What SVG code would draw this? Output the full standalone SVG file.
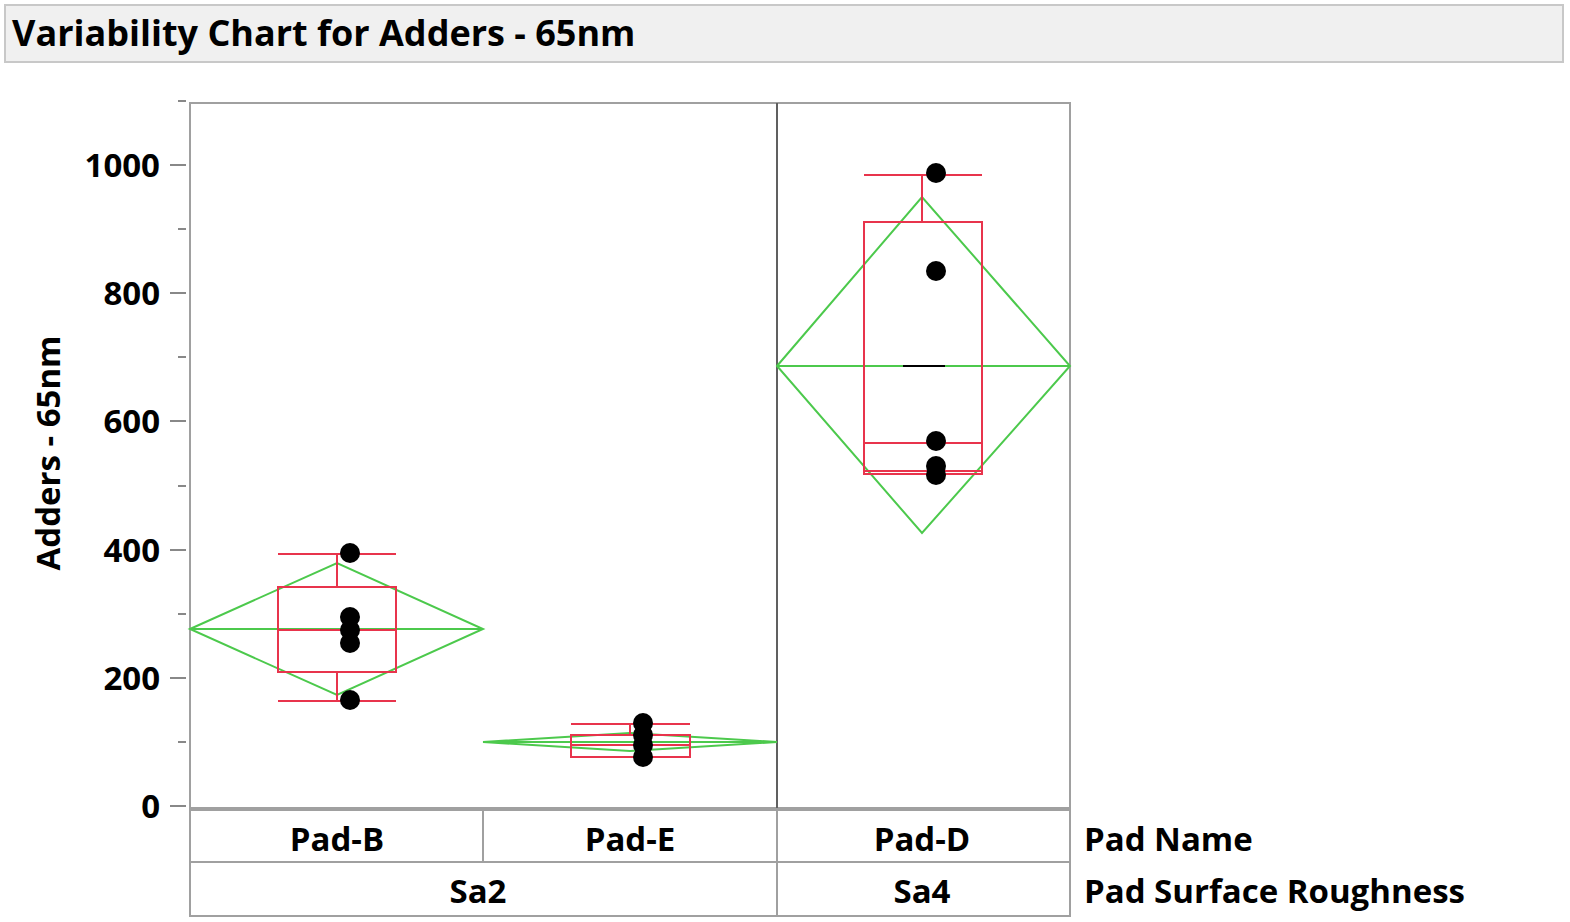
<svg xmlns="http://www.w3.org/2000/svg" width="1570" height="922" viewBox="0 0 1570 922">
<style>
text{font-family:"Open Sans","Noto Sans","Liberation Sans",sans-serif;font-weight:bold;fill:#000}
.t{font-size:36px}
.ax{font-size:33px;text-anchor:end}
.lab{font-size:33px;text-anchor:middle}
.box{fill:none;stroke:#e8344c;stroke-width:2}
.dia{fill:none;stroke:#4cc94c;stroke-width:2}
.tk{stroke:#888;stroke-width:2}
.pt{fill:#000}
.grid{fill:none;stroke:#a0a0a0;stroke-width:2}
</style>
<rect x="5" y="5" width="1558" height="57" fill="#f0f0f0" stroke="#c8c8c8" stroke-width="2"/>
<text class="t" x="12" y="46">Variability Chart for Adders - 65nm</text>
<g id="axis">
<g class="tk">
<line x1="170" y1="806" x2="186" y2="806"/><line x1="170" y1="678" x2="186" y2="678"/><line x1="170" y1="550" x2="186" y2="550"/><line x1="170" y1="421" x2="186" y2="421"/><line x1="170" y1="293" x2="186" y2="293"/><line x1="170" y1="165" x2="186" y2="165"/>
<line x1="178" y1="742" x2="186" y2="742"/><line x1="178" y1="614" x2="186" y2="614"/><line x1="178" y1="486" x2="186" y2="486"/><line x1="178" y1="357" x2="186" y2="357"/><line x1="178" y1="229" x2="186" y2="229"/><line x1="178" y1="101" x2="186" y2="101"/>
</g>
<text class="ax" x="160" y="818">0</text><text class="ax" x="160" y="690">200</text><text class="ax" x="160" y="562">400</text><text class="ax" x="160" y="433">600</text><text class="ax" x="160" y="305">800</text><text class="ax" x="160" y="177">1000</text>
<text class="lab" transform="translate(60,453) rotate(-90)">Adders - 65nm</text>
</g>
<g id="frame">
<rect class="grid" x="190" y="103" width="880" height="705"/>
<line x1="777" y1="103" x2="777" y2="808" stroke="#606060" stroke-width="2"/>
<rect class="grid" x="190" y="810" width="880" height="106"/>
<line class="grid" x1="190" y1="862" x2="1070" y2="862"/>
<line class="grid" x1="483" y1="810" x2="483" y2="862"/>
<line class="grid" x1="777" y1="810" x2="777" y2="916"/>
<text class="lab" x="337" y="851">Pad-B</text><text class="lab" x="630" y="851">Pad-E</text><text class="lab" x="922" y="851">Pad-D</text>
<text class="lab" x="478" y="903">Sa2</text><text class="lab" x="922" y="903">Sa4</text>
<text x="1084" y="851" style="font-size:33px">Pad Name</text>
<text x="1084" y="903" style="font-size:33px">Pad Surface Roughness</text>
</g>
<g id="padB">
<polygon class="dia" points="190,629 337,563 483,629 337,695"/><line class="dia" x1="190" y1="629" x2="483" y2="629"/>
<rect class="box" x="278" y="587" width="118" height="85"/>
<line class="box" x1="278" y1="630" x2="396" y2="630"/>
<line class="box" x1="337" y1="554" x2="337" y2="587"/><line class="box" x1="337" y1="672" x2="337" y2="701"/>
<line class="box" x1="278" y1="554" x2="396" y2="554"/><line class="box" x1="278" y1="701" x2="396" y2="701"/>
<circle class="pt" cx="350" cy="553" r="10"/><circle class="pt" cx="350" cy="617" r="10"/><circle class="pt" cx="350" cy="630" r="10"/><circle class="pt" cx="350" cy="643" r="10"/><circle class="pt" cx="350" cy="700" r="10"/>
</g>
<g id="padE">
<polygon class="dia" points="483,742 630,733 777,742 630,751"/><line class="dia" x1="483" y1="742" x2="777" y2="742"/>
<rect class="box" x="571" y="735" width="119" height="22"/>
<line class="box" x1="571" y1="745" x2="690" y2="745"/>
<line class="box" x1="630" y1="724" x2="630" y2="735"/>
<line class="box" x1="571" y1="724" x2="690" y2="724"/><line class="box" x1="571" y1="757" x2="690" y2="757"/>
<circle class="pt" cx="643" cy="723" r="10"/><circle class="pt" cx="643" cy="735" r="10"/><circle class="pt" cx="643" cy="745" r="10"/><circle class="pt" cx="643" cy="757" r="10"/>
</g>
<g id="padD">
<polygon class="dia" points="777,366 922,197 1070,366 922,533"/><line class="dia" x1="777" y1="366" x2="1070" y2="366"/>
<rect class="box" x="864" y="222" width="118" height="252"/>
<line class="box" x1="864" y1="443" x2="982" y2="443"/><line class="box" x1="864" y1="471" x2="982" y2="471"/>
<line class="box" x1="922" y1="175" x2="922" y2="222"/>
<line class="box" x1="864" y1="175" x2="982" y2="175"/>
<line x1="903" y1="366" x2="945" y2="366" stroke="#000" stroke-width="2"/>
<circle class="pt" cx="936" cy="173" r="10"/><circle class="pt" cx="936" cy="271" r="10"/><circle class="pt" cx="936" cy="441" r="10"/><circle class="pt" cx="936" cy="466" r="10"/><circle class="pt" cx="936" cy="475" r="10"/>
</g>
</svg>
